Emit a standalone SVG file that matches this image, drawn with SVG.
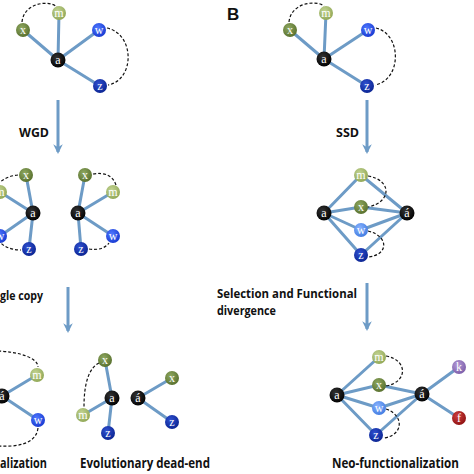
<svg xmlns="http://www.w3.org/2000/svg" width="474" height="474" viewBox="0 0 474 474">
<style>
.e{stroke:#6d9bc6;stroke-width:3;fill:none;stroke-linecap:round}
.d{stroke:#111;stroke-width:1.2;stroke-dasharray:3 2;fill:none}
.ar{stroke:#6d9bc6;stroke-width:3;fill:none}
.n{stroke:none}
.lb{font-family:"Liberation Serif",serif;font-size:12px;fill:#fff;text-anchor:middle;dominant-baseline:central}
.t{font-family:"Open Sans","Liberation Sans",sans-serif;font-weight:700;font-size:13px;fill:#111}
</style>
<defs>
<radialGradient id="gx" cx="0.4" cy="0.35" r="0.7"><stop offset="0" stop-color="#8fa860"/><stop offset="1" stop-color="#566e2c"/></radialGradient>
<radialGradient id="gm" cx="0.4" cy="0.35" r="0.7"><stop offset="0" stop-color="#c3d493"/><stop offset="1" stop-color="#8fa654"/></radialGradient>
<radialGradient id="gw" cx="0.4" cy="0.35" r="0.7"><stop offset="0" stop-color="#4f78ff"/><stop offset="1" stop-color="#1638d0"/></radialGradient>
<radialGradient id="gz" cx="0.4" cy="0.35" r="0.7"><stop offset="0" stop-color="#2f50d0"/><stop offset="1" stop-color="#0a2390"/></radialGradient>
<radialGradient id="gw2" cx="0.4" cy="0.35" r="0.7"><stop offset="0" stop-color="#8ab4ff"/><stop offset="1" stop-color="#3f7ae0"/></radialGradient>
<radialGradient id="ga" cx="0.4" cy="0.35" r="0.7"><stop offset="0" stop-color="#333"/><stop offset="1" stop-color="#000"/></radialGradient>
<radialGradient id="gk" cx="0.4" cy="0.35" r="0.7"><stop offset="0" stop-color="#b39ad6"/><stop offset="1" stop-color="#7b5ca8"/></radialGradient>
<radialGradient id="gf" cx="0.4" cy="0.35" r="0.7"><stop offset="0" stop-color="#d04040"/><stop offset="1" stop-color="#8c1010"/></radialGradient>
<marker id="ah" viewBox="0 0 10 10" refX="8" refY="5" markerWidth="3.2" markerHeight="3.2" orient="auto" markerUnits="strokeWidth">
<path d="M0,0 L10,5 L0,10 L3,5 z" fill="#6d9bc6"/>
</marker>
</defs>

<g id="connectors">
<path class="e" d="M58,60 L23,30 M58,60 L59,13 M58,60 L99,30 M58,60 L100,86"/>
<path class="d" d="M22,22 C24,2 50,0 57,7"/>
<path class="d" d="M107,28 C135,34 135,80 108,85"/>
<path class="e" d="M324,59 L290,30 M324,59 L326,13 M324,59 L368,30 M324,59 L367,86"/>
<path class="d" d="M289,22 C291,2 317,0 324,6"/>
<path class="d" d="M376,28 C402,34 402,80 375,85"/>
<path class="e" d="M33,213 L26,175 M33,213 L0,192 M33,213 L0,236 M33,213 L29,249"/>
<path class="d" d="M18,175 Q5,176 -4,186"/>
<path class="d" d="M-2,240 Q6,250 21,250"/>
<path class="e" d="M78,213 L85,175 M78,213 L113,192 M78,213 L113,236 M78,213 L81,249"/>
<path class="d" d="M93,174 Q111,171 116,185"/>
<path class="d" d="M89,249 Q103,251 109,243"/>
<path class="e" d="M324,213 L361,175 M324,213 L361,207 M324,213 L361,230 M324,213 L361,255 M407,213 L361,175 M407,213 L361,207 M407,213 L361,230 M407,213 L361,255"/>
<path class="d" d="M368,176 C392,180 392,202 368,207"/>
<path class="d" d="M368,231 C389,236 389,255 368,257"/>
<path class="e" d="M2,396 L37,375 M2,396 L38,420"/>
<path class="d" d="M-2,351 C20,352 38,358 38,367"/>
<path class="d" d="M38,428 C36,445 15,447 -2,446"/>
<path class="e" d="M112,398 L105,360 M112,398 L83,415 M112,398 L108,433"/>
<path class="d" d="M99,363 C85,370 84,395 84,407"/>
<path class="e" d="M138,398 L172,378 M138,398 L172,422"/>
<path class="e" d="M337,395 L379,357 M337,395 L379,385 M337,395 L379,408 M337,395 L376,435 M422,394 L379,385 M422,394 L379,408 M422,394 L376,435 M422,394 L459,367 M422,394 L459,418"/>
<path class="d" d="M386,356 C408,360 408,382 386,386"/>
<path class="d" d="M386,409 C404,415 404,435 384,438"/>
<path class="ar" d="M58,100 L58,152" marker-end="url(#ah)"/>
<path class="ar" d="M367,100 L367,152" marker-end="url(#ah)"/>
<path class="ar" d="M68,287 L68,331" marker-end="url(#ah)"/>
<path class="ar" d="M367,283 L367,329" marker-end="url(#ah)"/>
</g>

<g id="A-top-x"><circle class="n" cx="23" cy="30" r="7" fill="url(#gx)"/><text class="lb" x="23" y="29.5">x</text></g>
<g id="A-top-m"><circle class="n" cx="59" cy="13" r="7" fill="url(#gm)"/><text class="lb" x="59" y="12.5">m</text></g>
<g id="A-top-w"><circle class="n" cx="99" cy="30" r="7" fill="url(#gw)"/><text class="lb" x="99" y="29.5">w</text></g>
<g id="A-top-z"><circle class="n" cx="100" cy="86" r="7" fill="url(#gz)"/><text class="lb" x="100" y="85.5">z</text></g>
<g id="A-top-a"><circle class="n" cx="58" cy="60" r="7.5" fill="url(#ga)"/><text class="lb" x="58" y="59.5">a</text></g>

<g id="B-label"><text x="227" y="20" style="font-family:'Liberation Sans',Arial,sans-serif;font-weight:bold;font-size:17px;fill:#111">B</text></g>

<g id="B-top-x"><circle class="n" cx="290" cy="30" r="7" fill="url(#gx)"/><text class="lb" x="290" y="29.5">x</text></g>
<g id="B-top-m"><circle class="n" cx="326" cy="13" r="7" fill="url(#gm)"/><text class="lb" x="326" y="12.5">m</text></g>
<g id="B-top-w"><circle class="n" cx="368" cy="30" r="7" fill="url(#gw)"/><text class="lb" x="368" y="29.5">w</text></g>
<g id="B-top-z"><circle class="n" cx="367" cy="86" r="7" fill="url(#gz)"/><text class="lb" x="367" y="85.5">z</text></g>
<g id="B-top-a"><circle class="n" cx="324" cy="59" r="7.5" fill="url(#ga)"/><text class="lb" x="324" y="58.5">a</text></g>

<g id="lbl-wgd"><text class="t" x="19" y="137" textLength="30" lengthAdjust="spacingAndGlyphs">WGD</text></g>
<g id="lbl-ssd"><text class="t" x="336" y="137" textLength="23" lengthAdjust="spacingAndGlyphs">SSD</text></g>
<g id="lbl-single"><text class="t" x="0" y="300" textLength="43" lengthAdjust="spacingAndGlyphs">gle copy</text></g>
<g id="lbl-sel"><text class="t" x="217" y="298" textLength="140" lengthAdjust="spacingAndGlyphs">Selection and Functional</text><text class="t" x="217" y="315" textLength="59" lengthAdjust="spacingAndGlyphs">divergence</text></g>
<g id="lbl-sub"><text class="t" x="0" y="468" style="font-size:14px" textLength="47" lengthAdjust="spacingAndGlyphs">alization</text></g>
<g id="lbl-dead"><text class="t" x="80" y="468" style="font-size:14px" textLength="130" lengthAdjust="spacingAndGlyphs">Evolutionary dead-end</text></g>
<g id="lbl-neo"><text class="t" x="332" y="468" style="font-size:14px" textLength="127" lengthAdjust="spacingAndGlyphs">Neo-functionalization</text></g>

<g id="W1-x"><circle class="n" cx="26" cy="175" r="7" fill="url(#gx)"/><text class="lb" x="26" y="174.5">x</text></g>
<g id="W1-m"><circle class="n" cx="0" cy="192" r="7" fill="url(#gm)"/><text class="lb" x="0" y="191.5">m</text></g>
<g id="W1-w"><circle class="n" cx="0" cy="236" r="7" fill="url(#gw)"/><text class="lb" x="0" y="235.5">w</text></g>
<g id="W1-z"><circle class="n" cx="29" cy="249" r="7" fill="url(#gz)"/><text class="lb" x="29" y="248.5">z</text></g>
<g id="W1-a"><circle class="n" cx="33" cy="213" r="7.5" fill="url(#ga)"/><text class="lb" x="33" y="212.5">a</text></g>

<g id="W2-x"><circle class="n" cx="85" cy="175" r="7" fill="url(#gx)"/><text class="lb" x="85" y="174.5">x</text></g>
<g id="W2-m"><circle class="n" cx="113" cy="192" r="7" fill="url(#gm)"/><text class="lb" x="113" y="191.5">m</text></g>
<g id="W2-w"><circle class="n" cx="113" cy="236" r="7" fill="url(#gw)"/><text class="lb" x="113" y="235.5">w</text></g>
<g id="W2-z"><circle class="n" cx="81" cy="249" r="7" fill="url(#gz)"/><text class="lb" x="81" y="248.5">z</text></g>
<g id="W2-a"><circle class="n" cx="78" cy="213" r="7.5" fill="url(#ga)"/><text class="lb" x="78" y="212.5">a</text></g>

<g id="S-m"><circle class="n" cx="361" cy="175" r="7" fill="url(#gm)"/><text class="lb" x="361" y="174.5">m</text></g>
<g id="S-x"><circle class="n" cx="361" cy="207" r="7" fill="url(#gx)"/><text class="lb" x="361" y="206.5">x</text></g>
<g id="S-w"><circle class="n" cx="361" cy="230" r="7" fill="url(#gw2)"/><text class="lb" x="361" y="229.5">w</text></g>
<g id="S-z"><circle class="n" cx="361" cy="255" r="7" fill="url(#gz)"/><text class="lb" x="361" y="254.5">z</text></g>
<g id="S-a"><circle class="n" cx="324" cy="213" r="7.5" fill="url(#ga)"/><text class="lb" x="324" y="212.5">a</text></g>
<g id="S-a2"><circle class="n" cx="407" cy="213" r="7.5" fill="url(#ga)"/><text class="lb" x="407" y="212.5">á</text></g>

<g id="C-m"><circle class="n" cx="37" cy="375" r="7" fill="url(#gm)"/><text class="lb" x="37" y="374.5">m</text></g>
<g id="C-w"><circle class="n" cx="38" cy="420" r="7" fill="url(#gw)"/><text class="lb" x="38" y="419.5">w</text></g>
<g id="C-a2"><circle class="n" cx="2" cy="396" r="7.5" fill="url(#ga)"/><text class="lb" x="2" y="395.5">á</text></g>

<g id="D1-x"><circle class="n" cx="105" cy="360" r="7" fill="url(#gx)"/><text class="lb" x="105" y="359.5">x</text></g>
<g id="D1-m"><circle class="n" cx="83" cy="415" r="7" fill="url(#gm)"/><text class="lb" x="83" y="414.5">m</text></g>
<g id="D1-z"><circle class="n" cx="108" cy="433" r="7" fill="url(#gz)"/><text class="lb" x="108" y="432.5">z</text></g>
<g id="D1-a"><circle class="n" cx="112" cy="398" r="7.5" fill="url(#ga)"/><text class="lb" x="112" y="397.5">a</text></g>

<g id="D2-x"><circle class="n" cx="172" cy="378" r="7" fill="url(#gx)"/><text class="lb" x="172" y="377.5">x</text></g>
<g id="D2-z"><circle class="n" cx="172" cy="422" r="7" fill="url(#gz)"/><text class="lb" x="172" y="421.5">z</text></g>
<g id="D2-a2"><circle class="n" cx="138" cy="398" r="7.5" fill="url(#ga)"/><text class="lb" x="138" y="397.5">á</text></g>

<g id="N-m"><circle class="n" cx="379" cy="357" r="7" fill="url(#gm)"/><text class="lb" x="379" y="356.5">m</text></g>
<g id="N-x"><circle class="n" cx="379" cy="385" r="7" fill="url(#gx)"/><text class="lb" x="379" y="384.5">x</text></g>
<g id="N-w"><circle class="n" cx="379" cy="408" r="7" fill="url(#gw2)"/><text class="lb" x="379" y="407.5">w</text></g>
<g id="N-z"><circle class="n" cx="376" cy="435" r="7" fill="url(#gz)"/><text class="lb" x="376" y="434.5">z</text></g>
<g id="N-a"><circle class="n" cx="337" cy="395" r="7.5" fill="url(#ga)"/><text class="lb" x="337" y="394.5">a</text></g>
<g id="N-a2"><circle class="n" cx="422" cy="394" r="7.5" fill="url(#ga)"/><text class="lb" x="422" y="393.5">á</text></g>
<g id="N-k"><circle class="n" cx="459" cy="367" r="7" fill="url(#gk)"/><text class="lb" x="459" y="366.5">k</text></g>
<g id="N-f"><circle class="n" cx="459" cy="418" r="7" fill="url(#gf)"/><text class="lb" x="459" y="417.5">f</text></g>
</svg>
